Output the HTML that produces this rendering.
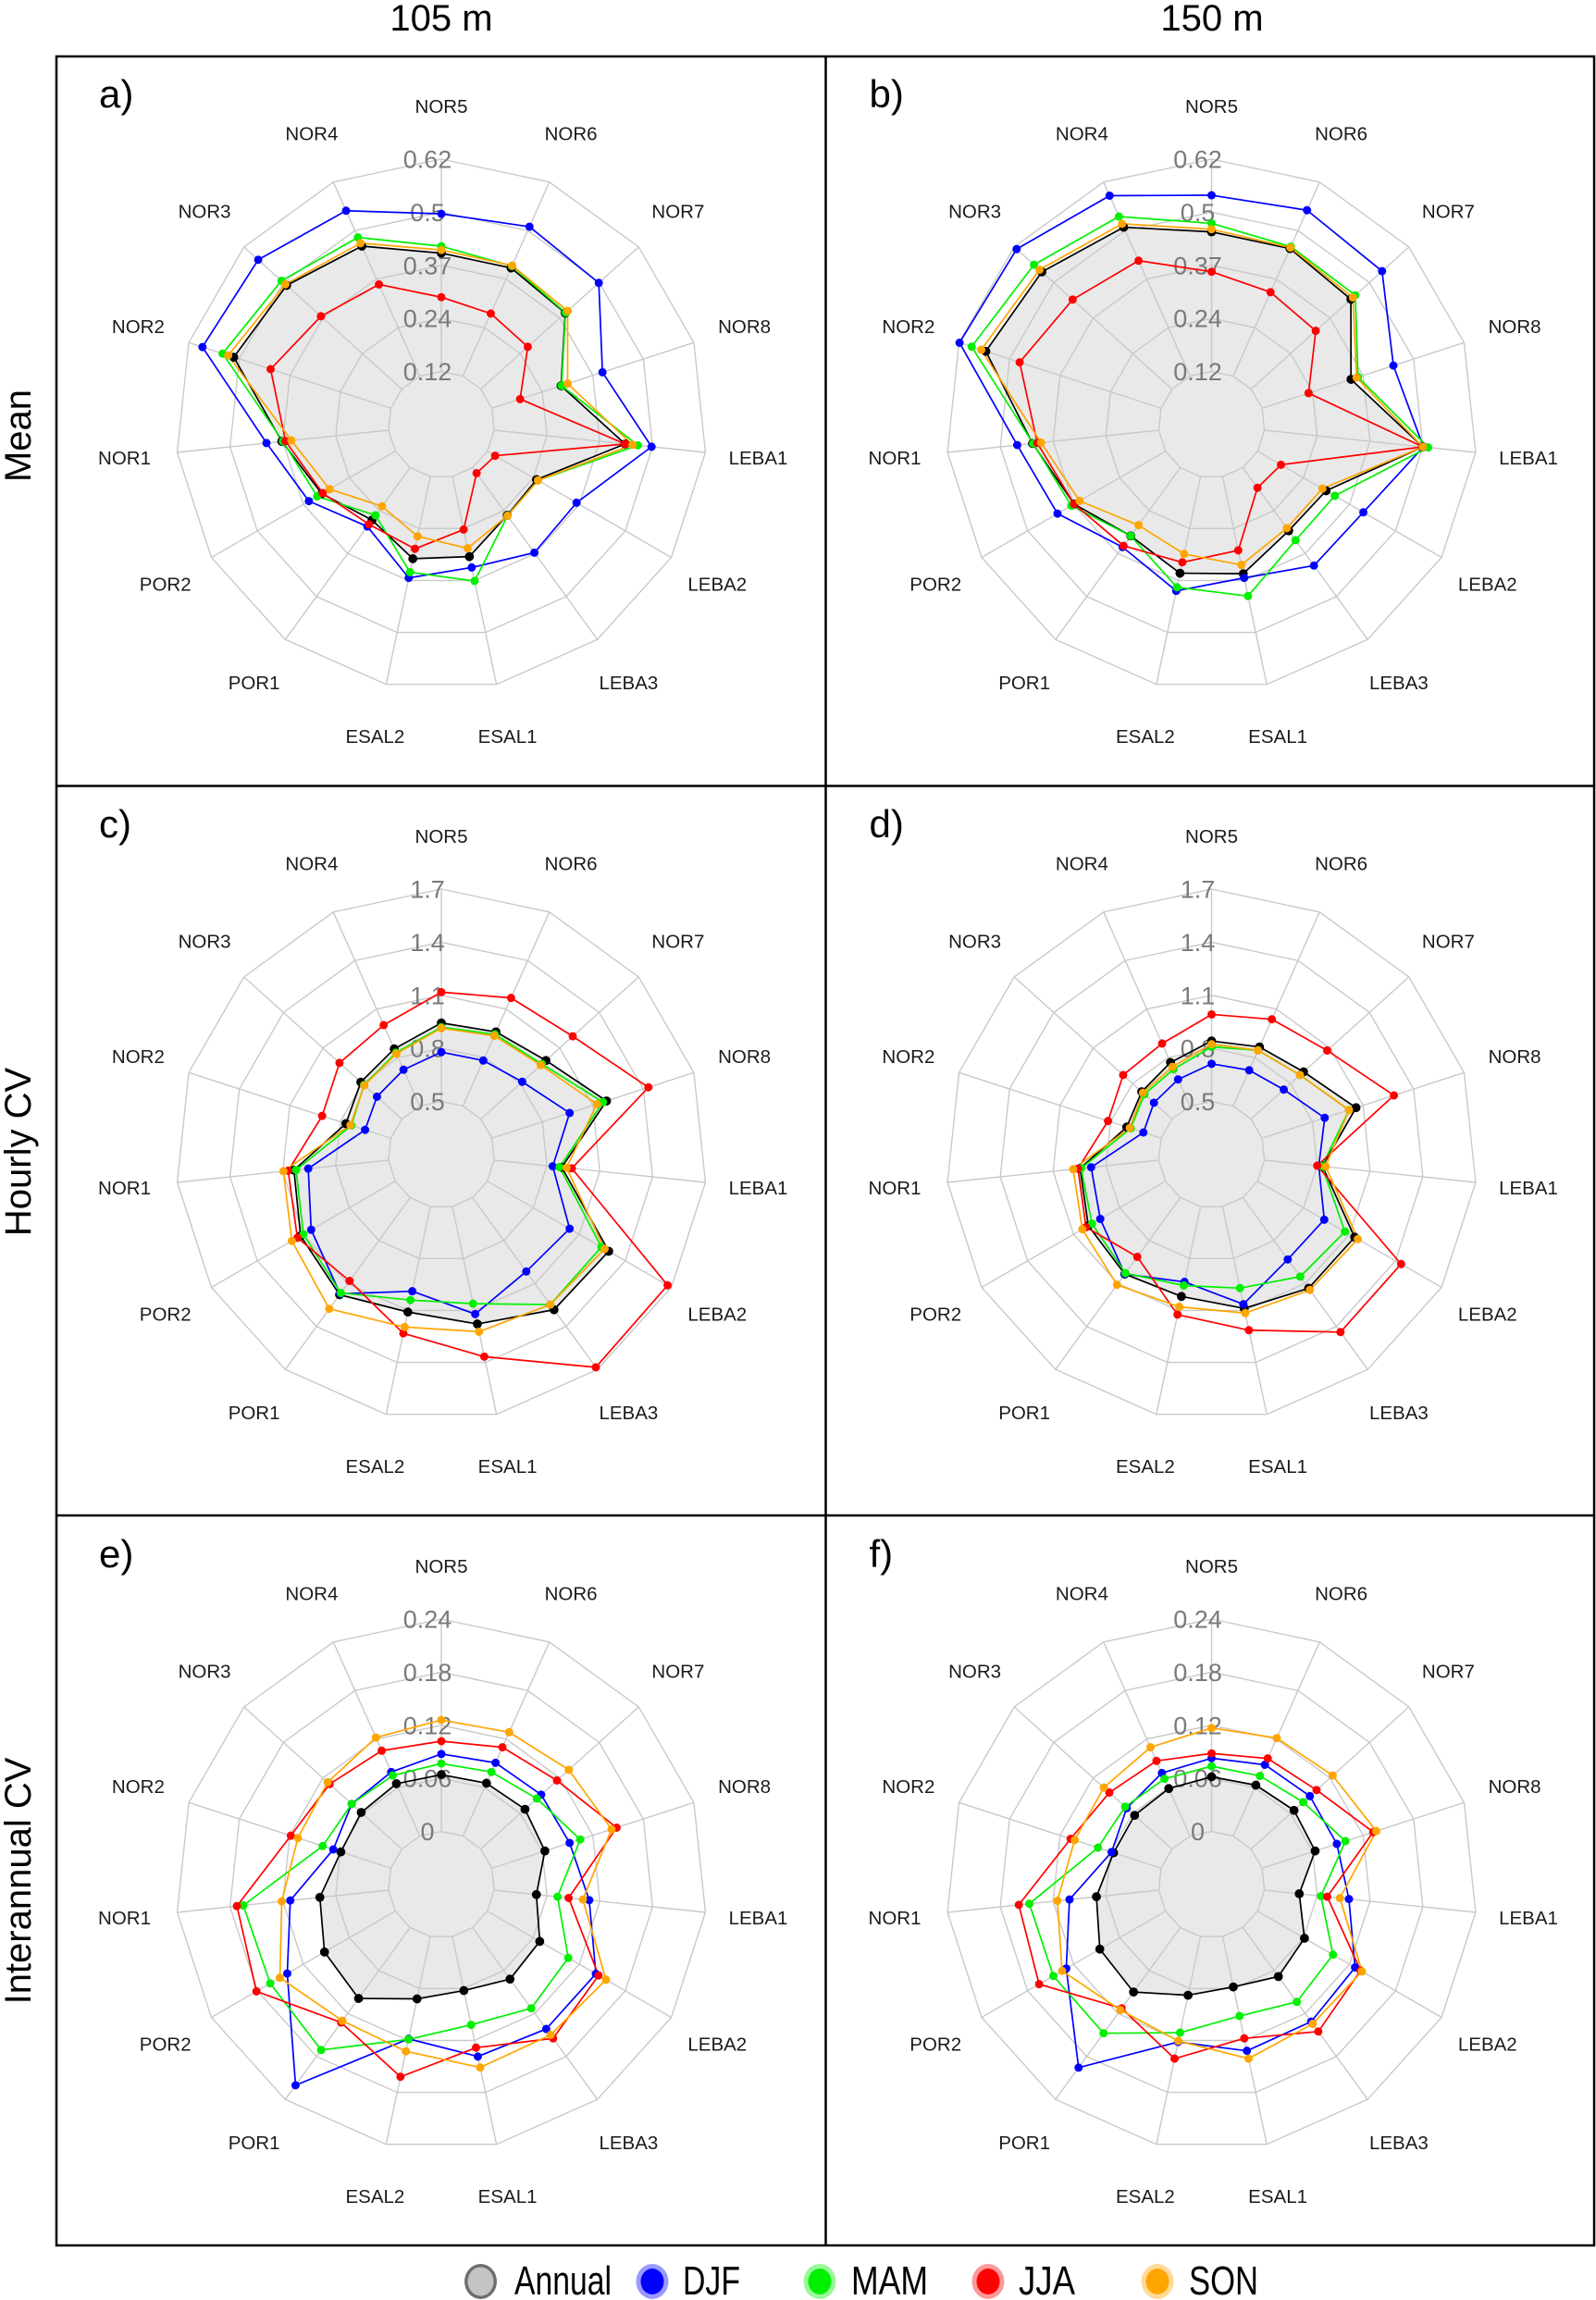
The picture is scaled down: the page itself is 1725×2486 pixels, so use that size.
<!DOCTYPE html>
<html><head><meta charset="utf-8"><style>
html,body{margin:0;padding:0;background:#fff}
svg{display:block;font-family:"Liberation Sans",Arial,sans-serif}
.F path{fill:#e9e9e9;stroke:#e9e9e9;stroke-width:1;vector-effect:non-scaling-stroke}
.grid polygon,.grid line{fill:none;stroke:#c9c9c9;stroke-width:1.4}
.L path{fill:none;stroke-width:1.7;vector-effect:non-scaling-stroke;stroke-linecap:round;stroke-linejoin:round}
.L .k{stroke:#000}.L .b{stroke:#0000ff}.L .g{stroke:#00f000}.L .r{stroke:#ff0000}.L .o{stroke:#ffa500}
.D .k{fill:#000}.D .b{fill:#0000ff}.D .g{fill:#00f000}.D .r{fill:#ff0000}.D .o{fill:#ffa500}
.ax{font-size:20.5px;fill:#1a1a1a;text-anchor:middle}
.rl{font-size:27px;fill:#7a7a7a;text-anchor:middle}
.pl{font-size:42px;fill:#000}
.hd{font-size:40px;fill:#000;text-anchor:middle}
</style></head><body>
<svg width="1725" height="2486" viewBox="0 0 1725 2486" xmlns="http://www.w3.org/2000/svg">
<defs>
<g id="grid" class="grid">
<polygon points="0,-57.4 23.35,-52.44 42.66,-38.41 54.59,-17.74 57.09,6 49.71,28.7 33.74,46.44 11.93,56.15 -11.93,56.15 -33.74,46.44 -49.71,28.7 -57.09,6 -54.59,-17.74 -42.66,-38.41 -23.35,-52.44"/>
<polygon points="0,-114.8 46.69,-104.87 85.31,-76.82 109.18,-35.48 114.17,12 99.42,57.4 67.48,92.88 23.87,112.29 -23.87,112.29 -67.48,92.88 -99.42,57.4 -114.17,12 -109.18,-35.48 -85.31,-76.82 -46.69,-104.87"/>
<polygon points="0,-172.2 70.04,-157.31 127.97,-115.22 163.77,-53.21 171.26,18 149.13,86.1 101.22,139.31 35.8,168.44 -35.8,168.44 -101.22,139.31 -149.13,86.1 -171.26,18 -163.77,-53.21 -127.97,-115.22 -70.04,-157.31"/>
<polygon points="0,-229.6 93.39,-209.75 170.63,-153.63 218.36,-70.95 228.34,24 198.84,114.8 134.96,185.75 47.74,224.58 -47.74,224.58 -134.96,185.75 -198.84,114.8 -228.34,24 -218.36,-70.95 -170.63,-153.63 -93.39,-209.75"/>
<polygon points="0,-287 116.73,-262.19 213.28,-192.04 272.95,-88.69 285.43,30 248.55,143.5 168.69,232.19 59.67,280.73 -59.67,280.73 -168.69,232.19 -248.55,143.5 -285.43,30 -272.95,-88.69 -213.28,-192.04 -116.73,-262.19"/>
<line x1="0" y1="-57.4" x2="0" y2="-287"/>
<line x1="23.35" y1="-52.44" x2="116.73" y2="-262.19"/>
<line x1="42.66" y1="-38.41" x2="213.28" y2="-192.04"/>
<line x1="54.59" y1="-17.74" x2="272.95" y2="-88.69"/>
<line x1="57.09" y1="6" x2="285.43" y2="30"/>
<line x1="49.71" y1="28.7" x2="248.55" y2="143.5"/>
<line x1="33.74" y1="46.44" x2="168.69" y2="232.19"/>
<line x1="11.93" y1="56.15" x2="59.67" y2="280.73"/>
<line x1="-11.93" y1="56.15" x2="-59.67" y2="280.73"/>
<line x1="-33.74" y1="46.44" x2="-168.69" y2="232.19"/>
<line x1="-49.71" y1="28.7" x2="-248.55" y2="143.5"/>
<line x1="-57.09" y1="6" x2="-285.43" y2="30"/>
<line x1="-54.59" y1="-17.74" x2="-272.95" y2="-88.69"/>
<line x1="-42.66" y1="-38.41" x2="-213.28" y2="-192.04"/>
<line x1="-23.35" y1="-52.44" x2="-116.73" y2="-262.19"/>
</g>
</defs>
<rect width="1725" height="2486" fill="#fff"/>

<text class="hd" x="477" y="33">105 m</text>
<text class="hd" x="1310" y="33">150 m</text>
<text font-size="40" text-anchor="middle" transform="translate(33,471) rotate(-90)">Mean</text>
<text font-size="40" text-anchor="middle" transform="translate(33,1245) rotate(-90)">Hourly CV</text>
<text font-size="40" text-anchor="middle" transform="translate(33,2033) rotate(-90)">Interannual CV</text>

<!-- PANEL A -->
<text class="pl" x="107" y="116">a)</text>
<g transform="translate(477,459)">
<g class="F">
<g transform="matrix(0,-57.4,23.347,-52.437,0,0)"><path d="M0 0 3.23 0 0 3.23z"/></g>
<g transform="matrix(23.347,-52.437,42.657,-38.408,0,0)"><path d="M0 0 3.23 0 0 3.14z"/></g>
<g transform="matrix(42.657,-38.408,54.591,-17.738,0,0)"><path d="M0 0 3.14 0 0 2.37z"/></g>
<g transform="matrix(54.591,-17.738,57.086,6,0,0)"><path d="M0 0 2.37 0 0 3.48z"/></g>
<g transform="matrix(57.086,6,49.71,28.7,0,0)"><path d="M0 0 3.48 0 0 2.07z"/></g>
<g transform="matrix(49.71,28.7,33.739,46.438,0,0)"><path d="M0 0 2.07 0 0 2.11z"/></g>
<g transform="matrix(33.739,46.438,11.934,56.146,0,0)"><path d="M0 0 2.11 0 0 2.54z"/></g>
<g transform="matrix(11.934,56.146,-11.934,56.146,0,0)"><path d="M0 0 2.54 0 0 2.58z"/></g>
<g transform="matrix(-11.934,56.146,-33.739,46.438,0,0)"><path d="M0 0 2.58 0 0 2.22z"/></g>
<g transform="matrix(-33.739,46.438,-49.71,28.7,0,0)"><path d="M0 0 2.22 0 0 2.60z"/></g>
<g transform="matrix(-49.71,28.7,-57.086,6,0,0)"><path d="M0 0 2.60 0 0 3.02z"/></g>
<g transform="matrix(-57.086,6,-54.591,-17.738,0,0)"><path d="M0 0 3.02 0 0 4.11z"/></g>
<g transform="matrix(-54.591,-17.738,-42.657,-38.408,0,0)"><path d="M0 0 4.11 0 0 3.92z"/></g>
<g transform="matrix(-42.657,-38.408,-23.347,-52.437,0,0)"><path d="M0 0 3.92 0 0 3.68z"/></g>
<g transform="matrix(-23.347,-52.437,0,-57.4,0,0)"><path d="M0 0 3.68 0 0 3.23z"/></g>
</g>
<use href="#grid"/>
<text class="rl" x="-15" y="-57.4" dy="0.35em">0.12</text>
<text class="rl" x="-15" y="-114.8" dy="0.35em">0.24</text>
<text class="rl" x="-15" y="-172.2" dy="0.35em">0.37</text>
<text class="rl" x="-15" y="-229.6" dy="0.35em">0.5</text>
<text class="rl" x="-15" y="-287" dy="0.35em">0.62</text>
<text class="ax" x="0" y="-344.4" dy="0.35em">NOR5</text>
<text class="ax" x="140.1" y="-314.6" dy="0.35em">NOR6</text>
<text class="ax" x="255.9" y="-230.5" dy="0.35em">NOR7</text>
<text class="ax" x="327.6" y="-106.4" dy="0.35em">NOR8</text>
<text class="ax" x="342.5" y="36" dy="0.35em">LEBA1</text>
<text class="ax" x="298.3" y="172.2" dy="0.35em">LEBA2</text>
<text class="ax" x="202.4" y="278.6" dy="0.35em">LEBA3</text>
<text class="ax" x="71.6" y="336.9" dy="0.35em">ESAL1</text>
<text class="ax" x="-71.6" y="336.9" dy="0.35em">ESAL2</text>
<text class="ax" x="-202.4" y="278.6" dy="0.35em">POR1</text>
<text class="ax" x="-298.3" y="172.2" dy="0.35em">POR2</text>
<text class="ax" x="-342.5" y="36" dy="0.35em">NOR1</text>
<text class="ax" x="-327.6" y="-106.4" dy="0.35em">NOR2</text>
<text class="ax" x="-255.9" y="-230.5" dy="0.35em">NOR3</text>
<text class="ax" x="-140.1" y="-314.6" dy="0.35em">NOR4</text>
<g class="L">
<g transform="matrix(0,-57.4,23.347,-52.437,0,0)"><path class="k" d="M3.23 0 0 3.23"/><path class="b" d="M3.97 0 0 4.08"/><path class="g" d="M3.36 0 0 3.27"/><path class="r" d="M2.40 0 0 2.29"/><path class="o" d="M3.29 0 0 3.28"/></g>
<g transform="matrix(23.347,-52.437,42.657,-38.408,0,0)"><path class="k" d="M3.23 0 0 3.14"/><path class="b" d="M4.08 0 0 3.99"/><path class="g" d="M3.27 0 0 3.15"/><path class="r" d="M2.29 0 0 2.19"/><path class="o" d="M3.28 0 0 3.20"/></g>
<g transform="matrix(42.657,-38.408,54.591,-17.738,0,0)"><path class="k" d="M3.14 0 0 2.37"/><path class="b" d="M3.99 0 0 3.19"/><path class="g" d="M3.15 0 0 2.38"/><path class="r" d="M2.19 0 0 1.56"/><path class="o" d="M3.20 0 0 2.50"/></g>
<g transform="matrix(54.591,-17.738,57.086,6,0,0)"><path class="k" d="M2.37 0 0 3.48"/><path class="b" d="M3.19 0 0 3.98"/><path class="g" d="M2.38 0 0 3.72"/><path class="r" d="M1.56 0 0 3.48"/><path class="o" d="M2.50 0 0 3.62"/></g>
<g transform="matrix(57.086,6,49.71,28.7,0,0)"><path class="k" d="M3.48 0 0 2.07"/><path class="b" d="M3.98 0 0 2.94"/><path class="g" d="M3.72 0 0 2.10"/><path class="r" d="M3.48 0 0 1.17"/><path class="o" d="M3.62 0 0 2.10"/></g>
<g transform="matrix(49.71,28.7,33.739,46.438,0,0)"><path class="k" d="M2.07 0 0 2.11"/><path class="b" d="M2.94 0 0 2.98"/><path class="g" d="M2.10 0 0 2.12"/><path class="r" d="M1.17 0 0 1.13"/><path class="o" d="M2.10 0 0 2.12"/></g>
<g transform="matrix(33.739,46.438,11.934,56.146,0,0)"><path class="k" d="M2.11 0 0 2.54"/><path class="b" d="M2.98 0 0 2.75"/><path class="g" d="M2.12 0 0 3.01"/><path class="r" d="M1.13 0 0 2.02"/><path class="o" d="M2.12 0 0 2.38"/></g>
<g transform="matrix(11.934,56.146,-11.934,56.146,0,0)"><path class="k" d="M2.54 0 0 2.58"/><path class="b" d="M2.75 0 0 2.95"/><path class="g" d="M3.01 0 0 2.84"/><path class="r" d="M2.02 0 0 2.39"/><path class="o" d="M2.38 0 0 2.15"/></g>
<g transform="matrix(-11.934,56.146,-33.739,46.438,0,0)"><path class="k" d="M2.58 0 0 2.22"/><path class="b" d="M2.95 0 0 2.37"/><path class="g" d="M2.84 0 0 2.11"/><path class="r" d="M2.39 0 0 2.32"/><path class="o" d="M2.15 0 0 1.90"/></g>
<g transform="matrix(-33.739,46.438,-49.71,28.7,0,0)"><path class="k" d="M2.22 0 0 2.60"/><path class="b" d="M2.37 0 0 2.88"/><path class="g" d="M2.11 0 0 2.70"/><path class="r" d="M2.32 0 0 2.58"/><path class="o" d="M1.90 0 0 2.43"/></g>
<g transform="matrix(-49.71,28.7,-57.086,6,0,0)"><path class="k" d="M2.60 0 0 3.02"/><path class="b" d="M2.88 0 0 3.31"/><path class="g" d="M2.70 0 0 3.00"/><path class="r" d="M2.58 0 0 2.95"/><path class="o" d="M2.43 0 0 2.84"/></g>
<g transform="matrix(-57.086,6,-54.591,-17.738,0,0)"><path class="k" d="M3.02 0 0 4.11"/><path class="b" d="M3.31 0 0 4.73"/><path class="g" d="M3.00 0 0 4.33"/><path class="r" d="M2.95 0 0 3.38"/><path class="o" d="M2.84 0 0 4.22"/></g>
<g transform="matrix(-54.591,-17.738,-42.657,-38.408,0,0)"><path class="k" d="M4.11 0 0 3.92"/><path class="b" d="M4.73 0 0 4.64"/><path class="g" d="M4.33 0 0 4.05"/><path class="r" d="M3.38 0 0 3.05"/><path class="o" d="M4.22 0 0 3.95"/></g>
<g transform="matrix(-42.657,-38.408,-23.347,-52.437,0,0)"><path class="k" d="M3.92 0 0 3.68"/><path class="b" d="M4.64 0 0 4.41"/><path class="g" d="M4.05 0 0 3.86"/><path class="r" d="M3.05 0 0 2.89"/><path class="o" d="M3.95 0 0 3.74"/></g>
<g transform="matrix(-23.347,-52.437,0,-57.4,0,0)"><path class="k" d="M3.68 0 0 3.23"/><path class="b" d="M4.41 0 0 3.97"/><path class="g" d="M3.86 0 0 3.36"/><path class="r" d="M2.89 0 0 2.40"/><path class="o" d="M3.74 0 0 3.29"/></g>
</g>
<g class="D">
<g transform="rotate(0) scale(57.4)"><circle class="k" cy="-3.23" r=".085"/><circle class="b" cy="-3.97" r=".078"/><circle class="g" cy="-3.36" r=".078"/><circle class="r" cy="-2.40" r=".078"/><circle class="o" cy="-3.29" r=".078"/></g>
<g transform="rotate(24) scale(57.4)"><circle class="k" cy="-3.23" r=".085"/><circle class="b" cy="-4.08" r=".078"/><circle class="g" cy="-3.27" r=".078"/><circle class="r" cy="-2.29" r=".078"/><circle class="o" cy="-3.28" r=".078"/></g>
<g transform="rotate(48) scale(57.4)"><circle class="k" cy="-3.14" r=".085"/><circle class="b" cy="-3.99" r=".078"/><circle class="g" cy="-3.15" r=".078"/><circle class="r" cy="-2.19" r=".078"/><circle class="o" cy="-3.20" r=".078"/></g>
<g transform="rotate(72) scale(57.4)"><circle class="k" cy="-2.37" r=".085"/><circle class="b" cy="-3.19" r=".078"/><circle class="g" cy="-2.38" r=".078"/><circle class="r" cy="-1.56" r=".078"/><circle class="o" cy="-2.50" r=".078"/></g>
<g transform="rotate(96) scale(57.4)"><circle class="k" cy="-3.48" r=".085"/><circle class="b" cy="-3.98" r=".078"/><circle class="g" cy="-3.72" r=".078"/><circle class="r" cy="-3.48" r=".078"/><circle class="o" cy="-3.62" r=".078"/></g>
<g transform="rotate(120) scale(57.4)"><circle class="k" cy="-2.07" r=".085"/><circle class="b" cy="-2.94" r=".078"/><circle class="g" cy="-2.10" r=".078"/><circle class="r" cy="-1.17" r=".078"/><circle class="o" cy="-2.10" r=".078"/></g>
<g transform="rotate(144) scale(57.4)"><circle class="k" cy="-2.11" r=".085"/><circle class="b" cy="-2.98" r=".078"/><circle class="g" cy="-2.12" r=".078"/><circle class="r" cy="-1.13" r=".078"/><circle class="o" cy="-2.12" r=".078"/></g>
<g transform="rotate(168) scale(57.4)"><circle class="k" cy="-2.54" r=".085"/><circle class="b" cy="-2.75" r=".078"/><circle class="g" cy="-3.01" r=".078"/><circle class="r" cy="-2.02" r=".078"/><circle class="o" cy="-2.38" r=".078"/></g>
<g transform="rotate(192) scale(57.4)"><circle class="k" cy="-2.58" r=".085"/><circle class="b" cy="-2.95" r=".078"/><circle class="g" cy="-2.84" r=".078"/><circle class="r" cy="-2.39" r=".078"/><circle class="o" cy="-2.15" r=".078"/></g>
<g transform="rotate(216) scale(57.4)"><circle class="k" cy="-2.22" r=".085"/><circle class="b" cy="-2.37" r=".078"/><circle class="g" cy="-2.11" r=".078"/><circle class="r" cy="-2.32" r=".078"/><circle class="o" cy="-1.90" r=".078"/></g>
<g transform="rotate(240) scale(57.4)"><circle class="k" cy="-2.60" r=".085"/><circle class="b" cy="-2.88" r=".078"/><circle class="g" cy="-2.70" r=".078"/><circle class="r" cy="-2.58" r=".078"/><circle class="o" cy="-2.43" r=".078"/></g>
<g transform="rotate(264) scale(57.4)"><circle class="k" cy="-3.02" r=".085"/><circle class="b" cy="-3.31" r=".078"/><circle class="g" cy="-3.00" r=".078"/><circle class="r" cy="-2.95" r=".078"/><circle class="o" cy="-2.84" r=".078"/></g>
<g transform="rotate(288) scale(57.4)"><circle class="k" cy="-4.11" r=".085"/><circle class="b" cy="-4.73" r=".078"/><circle class="g" cy="-4.33" r=".078"/><circle class="r" cy="-3.38" r=".078"/><circle class="o" cy="-4.22" r=".078"/></g>
<g transform="rotate(312) scale(57.4)"><circle class="k" cy="-3.92" r=".085"/><circle class="b" cy="-4.64" r=".078"/><circle class="g" cy="-4.05" r=".078"/><circle class="r" cy="-3.05" r=".078"/><circle class="o" cy="-3.95" r=".078"/></g>
<g transform="rotate(336) scale(57.4)"><circle class="k" cy="-3.68" r=".085"/><circle class="b" cy="-4.41" r=".078"/><circle class="g" cy="-3.86" r=".078"/><circle class="r" cy="-2.89" r=".078"/><circle class="o" cy="-3.74" r=".078"/></g>
</g>
</g>

<!-- PANEL B -->
<text class="pl" x="939.5" y="116">b)</text>
<g transform="translate(1309.5,459)">
<g class="F">
<g transform="matrix(0,-57.4,23.347,-52.437,0,0)"><path d="M0 0 3.63 0 0 3.63z"/></g>
<g transform="matrix(23.347,-52.437,42.657,-38.408,0,0)"><path d="M0 0 3.63 0 0 3.53z"/></g>
<g transform="matrix(42.657,-38.408,54.591,-17.738,0,0)"><path d="M0 0 3.53 0 0 2.76z"/></g>
<g transform="matrix(54.591,-17.738,57.086,6,0,0)"><path d="M0 0 2.76 0 0 4.00z"/></g>
<g transform="matrix(57.086,6,49.71,28.7,0,0)"><path d="M0 0 4.00 0 0 2.49z"/></g>
<g transform="matrix(49.71,28.7,33.739,46.438,0,0)"><path d="M0 0 2.49 0 0 2.47z"/></g>
<g transform="matrix(33.739,46.438,11.934,56.146,0,0)"><path d="M0 0 2.47 0 0 2.87z"/></g>
<g transform="matrix(11.934,56.146,-11.934,56.146,0,0)"><path d="M0 0 2.87 0 0 2.86z"/></g>
<g transform="matrix(-11.934,56.146,-33.739,46.438,0,0)"><path d="M0 0 2.86 0 0 2.59z"/></g>
<g transform="matrix(-33.739,46.438,-49.71,28.7,0,0)"><path d="M0 0 2.59 0 0 2.99z"/></g>
<g transform="matrix(-49.71,28.7,-57.086,6,0,0)"><path d="M0 0 2.99 0 0 3.39z"/></g>
<g transform="matrix(-57.086,6,-54.591,-17.738,0,0)"><path d="M0 0 3.39 0 0 4.47z"/></g>
<g transform="matrix(-54.591,-17.738,-42.657,-38.408,0,0)"><path d="M0 0 4.47 0 0 4.30z"/></g>
<g transform="matrix(-42.657,-38.408,-23.347,-52.437,0,0)"><path d="M0 0 4.30 0 0 4.07z"/></g>
<g transform="matrix(-23.347,-52.437,0,-57.4,0,0)"><path d="M0 0 4.07 0 0 3.63z"/></g>
</g>
<use href="#grid"/>
<text class="rl" x="-15" y="-57.4" dy="0.35em">0.12</text>
<text class="rl" x="-15" y="-114.8" dy="0.35em">0.24</text>
<text class="rl" x="-15" y="-172.2" dy="0.35em">0.37</text>
<text class="rl" x="-15" y="-229.6" dy="0.35em">0.5</text>
<text class="rl" x="-15" y="-287" dy="0.35em">0.62</text>
<text class="ax" x="0" y="-344.4" dy="0.35em">NOR5</text>
<text class="ax" x="140.1" y="-314.6" dy="0.35em">NOR6</text>
<text class="ax" x="255.9" y="-230.5" dy="0.35em">NOR7</text>
<text class="ax" x="327.6" y="-106.4" dy="0.35em">NOR8</text>
<text class="ax" x="342.5" y="36" dy="0.35em">LEBA1</text>
<text class="ax" x="298.3" y="172.2" dy="0.35em">LEBA2</text>
<text class="ax" x="202.4" y="278.6" dy="0.35em">LEBA3</text>
<text class="ax" x="71.6" y="336.9" dy="0.35em">ESAL1</text>
<text class="ax" x="-71.6" y="336.9" dy="0.35em">ESAL2</text>
<text class="ax" x="-202.4" y="278.6" dy="0.35em">POR1</text>
<text class="ax" x="-298.3" y="172.2" dy="0.35em">POR2</text>
<text class="ax" x="-342.5" y="36" dy="0.35em">NOR1</text>
<text class="ax" x="-327.6" y="-106.4" dy="0.35em">NOR2</text>
<text class="ax" x="-255.9" y="-230.5" dy="0.35em">NOR3</text>
<text class="ax" x="-140.1" y="-314.6" dy="0.35em">NOR4</text>
<g class="L">
<g transform="matrix(0,-57.4,23.347,-52.437,0,0)"><path class="k" d="M3.63 0 0 3.63"/><path class="b" d="M4.32 0 0 4.42"/><path class="g" d="M3.79 0 0 3.67"/><path class="r" d="M2.88 0 0 2.73"/><path class="o" d="M3.68 0 0 3.65"/></g>
<g transform="matrix(23.347,-52.437,42.657,-38.408,0,0)"><path class="k" d="M3.63 0 0 3.53"/><path class="b" d="M4.42 0 0 4.32"/><path class="g" d="M3.67 0 0 3.64"/><path class="r" d="M2.73 0 0 2.64"/><path class="o" d="M3.65 0 0 3.58"/></g>
<g transform="matrix(42.657,-38.408,54.591,-17.738,0,0)"><path class="k" d="M3.53 0 0 2.76"/><path class="b" d="M4.32 0 0 3.60"/><path class="g" d="M3.64 0 0 2.90"/><path class="r" d="M2.64 0 0 1.92"/><path class="o" d="M3.58 0 0 2.87"/></g>
<g transform="matrix(54.591,-17.738,57.086,6,0,0)"><path class="k" d="M2.76 0 0 4.00"/><path class="b" d="M3.60 0 0 4.01"/><path class="g" d="M2.90 0 0 4.10"/><path class="r" d="M1.92 0 0 4.00"/><path class="o" d="M2.87 0 0 4.00"/></g>
<g transform="matrix(57.086,6,49.71,28.7,0,0)"><path class="k" d="M4.00 0 0 2.49"/><path class="b" d="M4.01 0 0 3.30"/><path class="g" d="M4.10 0 0 2.68"/><path class="r" d="M4.00 0 0 1.51"/><path class="o" d="M4.00 0 0 2.41"/></g>
<g transform="matrix(49.71,28.7,33.739,46.438,0,0)"><path class="k" d="M2.49 0 0 2.47"/><path class="b" d="M3.30 0 0 3.28"/><path class="g" d="M2.68 0 0 2.69"/><path class="r" d="M1.51 0 0 1.47"/><path class="o" d="M2.41 0 0 2.41"/></g>
<g transform="matrix(33.739,46.438,11.934,56.146,0,0)"><path class="k" d="M2.47 0 0 2.87"/><path class="b" d="M3.28 0 0 2.95"/><path class="g" d="M2.69 0 0 3.30"/><path class="r" d="M1.47 0 0 2.42"/><path class="o" d="M2.41 0 0 2.70"/></g>
<g transform="matrix(11.934,56.146,-11.934,56.146,0,0)"><path class="k" d="M2.87 0 0 2.86"/><path class="b" d="M2.95 0 0 3.20"/><path class="g" d="M3.30 0 0 3.13"/><path class="r" d="M2.42 0 0 2.65"/><path class="o" d="M2.70 0 0 2.49"/></g>
<g transform="matrix(-11.934,56.146,-33.739,46.438,0,0)"><path class="k" d="M2.86 0 0 2.59"/><path class="b" d="M3.20 0 0 2.85"/><path class="g" d="M3.13 0 0 2.59"/><path class="r" d="M2.65 0 0 2.82"/><path class="o" d="M2.49 0 0 2.34"/></g>
<g transform="matrix(-33.739,46.438,-49.71,28.7,0,0)"><path class="k" d="M2.59 0 0 2.99"/><path class="b" d="M2.85 0 0 3.35"/><path class="g" d="M2.59 0 0 3.05"/><path class="r" d="M2.82 0 0 2.99"/><path class="o" d="M2.34 0 0 2.87"/></g>
<g transform="matrix(-49.71,28.7,-57.086,6,0,0)"><path class="k" d="M2.99 0 0 3.39"/><path class="b" d="M3.35 0 0 3.68"/><path class="g" d="M3.05 0 0 3.38"/><path class="r" d="M2.99 0 0 3.30"/><path class="o" d="M2.87 0 0 3.23"/></g>
<g transform="matrix(-57.086,6,-54.591,-17.738,0,0)"><path class="k" d="M3.39 0 0 4.47"/><path class="b" d="M3.68 0 0 4.99"/><path class="g" d="M3.38 0 0 4.75"/><path class="r" d="M3.30 0 0 3.80"/><path class="o" d="M3.23 0 0 4.56"/></g>
<g transform="matrix(-54.591,-17.738,-42.657,-38.408,0,0)"><path class="k" d="M4.47 0 0 4.30"/><path class="b" d="M4.99 0 0 4.94"/><path class="g" d="M4.75 0 0 4.50"/><path class="r" d="M3.80 0 0 3.52"/><path class="o" d="M4.56 0 0 4.36"/></g>
<g transform="matrix(-42.657,-38.408,-23.347,-52.437,0,0)"><path class="k" d="M4.30 0 0 4.07"/><path class="b" d="M4.94 0 0 4.72"/><path class="g" d="M4.50 0 0 4.29"/><path class="r" d="M3.52 0 0 3.38"/><path class="o" d="M4.36 0 0 4.14"/></g>
<g transform="matrix(-23.347,-52.437,0,-57.4,0,0)"><path class="k" d="M4.07 0 0 3.63"/><path class="b" d="M4.72 0 0 4.32"/><path class="g" d="M4.29 0 0 3.79"/><path class="r" d="M3.38 0 0 2.88"/><path class="o" d="M4.14 0 0 3.68"/></g>
</g>
<g class="D">
<g transform="rotate(0) scale(57.4)"><circle class="k" cy="-3.63" r=".085"/><circle class="b" cy="-4.32" r=".078"/><circle class="g" cy="-3.79" r=".078"/><circle class="r" cy="-2.88" r=".078"/><circle class="o" cy="-3.68" r=".078"/></g>
<g transform="rotate(24) scale(57.4)"><circle class="k" cy="-3.63" r=".085"/><circle class="b" cy="-4.42" r=".078"/><circle class="g" cy="-3.67" r=".078"/><circle class="r" cy="-2.73" r=".078"/><circle class="o" cy="-3.65" r=".078"/></g>
<g transform="rotate(48) scale(57.4)"><circle class="k" cy="-3.53" r=".085"/><circle class="b" cy="-4.32" r=".078"/><circle class="g" cy="-3.64" r=".078"/><circle class="r" cy="-2.64" r=".078"/><circle class="o" cy="-3.58" r=".078"/></g>
<g transform="rotate(72) scale(57.4)"><circle class="k" cy="-2.76" r=".085"/><circle class="b" cy="-3.60" r=".078"/><circle class="g" cy="-2.90" r=".078"/><circle class="r" cy="-1.92" r=".078"/><circle class="o" cy="-2.87" r=".078"/></g>
<g transform="rotate(96) scale(57.4)"><circle class="k" cy="-4.00" r=".085"/><circle class="b" cy="-4.01" r=".078"/><circle class="g" cy="-4.10" r=".078"/><circle class="r" cy="-4.00" r=".078"/><circle class="o" cy="-4.00" r=".078"/></g>
<g transform="rotate(120) scale(57.4)"><circle class="k" cy="-2.49" r=".085"/><circle class="b" cy="-3.30" r=".078"/><circle class="g" cy="-2.68" r=".078"/><circle class="r" cy="-1.51" r=".078"/><circle class="o" cy="-2.41" r=".078"/></g>
<g transform="rotate(144) scale(57.4)"><circle class="k" cy="-2.47" r=".085"/><circle class="b" cy="-3.28" r=".078"/><circle class="g" cy="-2.69" r=".078"/><circle class="r" cy="-1.47" r=".078"/><circle class="o" cy="-2.41" r=".078"/></g>
<g transform="rotate(168) scale(57.4)"><circle class="k" cy="-2.87" r=".085"/><circle class="b" cy="-2.95" r=".078"/><circle class="g" cy="-3.30" r=".078"/><circle class="r" cy="-2.42" r=".078"/><circle class="o" cy="-2.70" r=".078"/></g>
<g transform="rotate(192) scale(57.4)"><circle class="k" cy="-2.86" r=".085"/><circle class="b" cy="-3.20" r=".078"/><circle class="g" cy="-3.13" r=".078"/><circle class="r" cy="-2.65" r=".078"/><circle class="o" cy="-2.49" r=".078"/></g>
<g transform="rotate(216) scale(57.4)"><circle class="k" cy="-2.59" r=".085"/><circle class="b" cy="-2.85" r=".078"/><circle class="g" cy="-2.59" r=".078"/><circle class="r" cy="-2.82" r=".078"/><circle class="o" cy="-2.34" r=".078"/></g>
<g transform="rotate(240) scale(57.4)"><circle class="k" cy="-2.99" r=".085"/><circle class="b" cy="-3.35" r=".078"/><circle class="g" cy="-3.05" r=".078"/><circle class="r" cy="-2.99" r=".078"/><circle class="o" cy="-2.87" r=".078"/></g>
<g transform="rotate(264) scale(57.4)"><circle class="k" cy="-3.39" r=".085"/><circle class="b" cy="-3.68" r=".078"/><circle class="g" cy="-3.38" r=".078"/><circle class="r" cy="-3.30" r=".078"/><circle class="o" cy="-3.23" r=".078"/></g>
<g transform="rotate(288) scale(57.4)"><circle class="k" cy="-4.47" r=".085"/><circle class="b" cy="-4.99" r=".078"/><circle class="g" cy="-4.75" r=".078"/><circle class="r" cy="-3.80" r=".078"/><circle class="o" cy="-4.56" r=".078"/></g>
<g transform="rotate(312) scale(57.4)"><circle class="k" cy="-4.30" r=".085"/><circle class="b" cy="-4.94" r=".078"/><circle class="g" cy="-4.50" r=".078"/><circle class="r" cy="-3.52" r=".078"/><circle class="o" cy="-4.36" r=".078"/></g>
<g transform="rotate(336) scale(57.4)"><circle class="k" cy="-4.07" r=".085"/><circle class="b" cy="-4.72" r=".078"/><circle class="g" cy="-4.29" r=".078"/><circle class="r" cy="-3.38" r=".078"/><circle class="o" cy="-4.14" r=".078"/></g>
</g>
</g>

<!-- PANEL C -->
<text class="pl" x="107" y="905">c)</text>
<g transform="translate(477,1248)">
<g class="F">
<g transform="matrix(0,-57.4,23.347,-52.437,0,0)"><path d="M0 0 2.48 0 0 2.53z"/></g>
<g transform="matrix(23.347,-52.437,42.657,-38.408,0,0)"><path d="M0 0 2.53 0 0 2.65z"/></g>
<g transform="matrix(42.657,-38.408,54.591,-17.738,0,0)"><path d="M0 0 2.65 0 0 3.27z"/></g>
<g transform="matrix(54.591,-17.738,57.086,6,0,0)"><path d="M0 0 3.27 0 0 2.28z"/></g>
<g transform="matrix(57.086,6,49.71,28.7,0,0)"><path d="M0 0 2.28 0 0 3.64z"/></g>
<g transform="matrix(49.71,28.7,33.739,46.438,0,0)"><path d="M0 0 3.64 0 0 3.61z"/></g>
<g transform="matrix(33.739,46.438,11.934,56.146,0,0)"><path d="M0 0 3.61 0 0 3.26z"/></g>
<g transform="matrix(11.934,56.146,-11.934,56.146,0,0)"><path d="M0 0 3.26 0 0 3.03z"/></g>
<g transform="matrix(-11.934,56.146,-33.739,46.438,0,0)"><path d="M0 0 3.03 0 0 3.26z"/></g>
<g transform="matrix(-33.739,46.438,-49.71,28.7,0,0)"><path d="M0 0 3.26 0 0 3.06z"/></g>
<g transform="matrix(-49.71,28.7,-57.086,6,0,0)"><path d="M0 0 3.06 0 0 2.79z"/></g>
<g transform="matrix(-57.086,6,-54.591,-17.738,0,0)"><path d="M0 0 2.79 0 0 1.89z"/></g>
<g transform="matrix(-54.591,-17.738,-42.657,-38.408,0,0)"><path d="M0 0 1.89 0 0 2.04z"/></g>
<g transform="matrix(-42.657,-38.408,-23.347,-52.437,0,0)"><path d="M0 0 2.04 0 0 2.18z"/></g>
<g transform="matrix(-23.347,-52.437,0,-57.4,0,0)"><path d="M0 0 2.18 0 0 2.48z"/></g>
</g>
<use href="#grid"/>
<text class="rl" x="-15" y="-57.4" dy="0.35em">0.5</text>
<text class="rl" x="-15" y="-114.8" dy="0.35em">0.8</text>
<text class="rl" x="-15" y="-172.2" dy="0.35em">1.1</text>
<text class="rl" x="-15" y="-229.6" dy="0.35em">1.4</text>
<text class="rl" x="-15" y="-287" dy="0.35em">1.7</text>
<text class="ax" x="0" y="-344.4" dy="0.35em">NOR5</text>
<text class="ax" x="140.1" y="-314.6" dy="0.35em">NOR6</text>
<text class="ax" x="255.9" y="-230.5" dy="0.35em">NOR7</text>
<text class="ax" x="327.6" y="-106.4" dy="0.35em">NOR8</text>
<text class="ax" x="342.5" y="36" dy="0.35em">LEBA1</text>
<text class="ax" x="298.3" y="172.2" dy="0.35em">LEBA2</text>
<text class="ax" x="202.4" y="278.6" dy="0.35em">LEBA3</text>
<text class="ax" x="71.6" y="336.9" dy="0.35em">ESAL1</text>
<text class="ax" x="-71.6" y="336.9" dy="0.35em">ESAL2</text>
<text class="ax" x="-202.4" y="278.6" dy="0.35em">POR1</text>
<text class="ax" x="-298.3" y="172.2" dy="0.35em">POR2</text>
<text class="ax" x="-342.5" y="36" dy="0.35em">NOR1</text>
<text class="ax" x="-327.6" y="-106.4" dy="0.35em">NOR2</text>
<text class="ax" x="-255.9" y="-230.5" dy="0.35em">NOR3</text>
<text class="ax" x="-140.1" y="-314.6" dy="0.35em">NOR4</text>
<g class="L">
<g transform="matrix(0,-57.4,23.347,-52.437,0,0)"><path class="k" d="M2.48 0 0 2.53"/><path class="b" d="M1.93 0 0 1.94"/><path class="g" d="M2.40 0 0 2.48"/><path class="r" d="M3.06 0 0 3.23"/><path class="o" d="M2.38 0 0 2.45"/></g>
<g transform="matrix(23.347,-52.437,42.657,-38.408,0,0)"><path class="k" d="M2.53 0 0 2.65"/><path class="b" d="M1.94 0 0 2.05"/><path class="g" d="M2.48 0 0 2.55"/><path class="r" d="M3.23 0 0 3.33"/><path class="o" d="M2.45 0 0 2.52"/></g>
<g transform="matrix(42.657,-38.408,54.591,-17.738,0,0)"><path class="k" d="M2.65 0 0 3.27"/><path class="b" d="M2.05 0 0 2.54"/><path class="g" d="M2.55 0 0 3.20"/><path class="r" d="M3.33 0 0 4.10"/><path class="o" d="M2.52 0 0 3.08"/></g>
<g transform="matrix(54.591,-17.738,57.086,6,0,0)"><path class="k" d="M3.27 0 0 2.28"/><path class="b" d="M2.54 0 0 2.11"/><path class="g" d="M3.20 0 0 2.24"/><path class="r" d="M4.10 0 0 2.47"/><path class="o" d="M3.08 0 0 2.37"/></g>
<g transform="matrix(57.086,6,49.71,28.7,0,0)"><path class="k" d="M2.28 0 0 3.64"/><path class="b" d="M2.11 0 0 2.79"/><path class="g" d="M2.24 0 0 3.48"/><path class="r" d="M2.47 0 0 4.92"/><path class="o" d="M2.37 0 0 3.55"/></g>
<g transform="matrix(49.71,28.7,33.739,46.438,0,0)"><path class="k" d="M3.64 0 0 3.61"/><path class="b" d="M2.79 0 0 2.72"/><path class="g" d="M3.48 0 0 3.49"/><path class="r" d="M4.92 0 0 4.95"/><path class="o" d="M3.55 0 0 3.49"/></g>
<g transform="matrix(33.739,46.438,11.934,56.146,0,0)"><path class="k" d="M3.61 0 0 3.26"/><path class="b" d="M2.72 0 0 3.07"/><path class="g" d="M3.49 0 0 2.87"/><path class="r" d="M4.95 0 0 3.89"/><path class="o" d="M3.49 0 0 3.41"/></g>
<g transform="matrix(11.934,56.146,-11.934,56.146,0,0)"><path class="k" d="M3.26 0 0 3.03"/><path class="b" d="M3.07 0 0 2.63"/><path class="g" d="M2.87 0 0 2.80"/><path class="r" d="M3.89 0 0 3.44"/><path class="o" d="M3.41 0 0 3.32"/></g>
<g transform="matrix(-11.934,56.146,-33.739,46.438,0,0)"><path class="k" d="M3.03 0 0 3.26"/><path class="b" d="M2.63 0 0 3.24"/><path class="g" d="M2.80 0 0 3.22"/><path class="r" d="M3.44 0 0 2.94"/><path class="o" d="M3.32 0 0 3.59"/></g>
<g transform="matrix(-33.739,46.438,-49.71,28.7,0,0)"><path class="k" d="M3.26 0 0 3.06"/><path class="b" d="M3.24 0 0 2.83"/><path class="g" d="M3.22 0 0 3.00"/><path class="r" d="M2.94 0 0 3.13"/><path class="o" d="M3.59 0 0 3.25"/></g>
<g transform="matrix(-49.71,28.7,-57.086,6,0,0)"><path class="k" d="M3.06 0 0 2.79"/><path class="b" d="M2.83 0 0 2.52"/><path class="g" d="M3.00 0 0 2.75"/><path class="r" d="M3.13 0 0 2.90"/><path class="o" d="M3.25 0 0 2.99"/></g>
<g transform="matrix(-57.086,6,-54.591,-17.738,0,0)"><path class="k" d="M2.79 0 0 1.89"/><path class="b" d="M2.52 0 0 1.51"/><path class="g" d="M2.75 0 0 1.78"/><path class="r" d="M2.90 0 0 2.36"/><path class="o" d="M2.99 0 0 1.80"/></g>
<g transform="matrix(-54.591,-17.738,-42.657,-38.408,0,0)"><path class="k" d="M1.89 0 0 2.04"/><path class="b" d="M1.51 0 0 1.63"/><path class="g" d="M1.78 0 0 1.96"/><path class="r" d="M2.36 0 0 2.58"/><path class="o" d="M1.80 0 0 1.95"/></g>
<g transform="matrix(-42.657,-38.408,-23.347,-52.437,0,0)"><path class="k" d="M2.04 0 0 2.18"/><path class="b" d="M1.63 0 0 1.75"/><path class="g" d="M1.96 0 0 2.10"/><path class="r" d="M2.58 0 0 2.67"/><path class="o" d="M1.95 0 0 2.08"/></g>
<g transform="matrix(-23.347,-52.437,0,-57.4,0,0)"><path class="k" d="M2.18 0 0 2.48"/><path class="b" d="M1.75 0 0 1.93"/><path class="g" d="M2.10 0 0 2.40"/><path class="r" d="M2.67 0 0 3.06"/><path class="o" d="M2.08 0 0 2.38"/></g>
</g>
<g class="D">
<g transform="rotate(0) scale(57.4)"><circle class="k" cy="-2.48" r=".085"/><circle class="b" cy="-1.93" r=".078"/><circle class="g" cy="-2.40" r=".078"/><circle class="r" cy="-3.06" r=".078"/><circle class="o" cy="-2.38" r=".078"/></g>
<g transform="rotate(24) scale(57.4)"><circle class="k" cy="-2.53" r=".085"/><circle class="b" cy="-1.94" r=".078"/><circle class="g" cy="-2.48" r=".078"/><circle class="r" cy="-3.23" r=".078"/><circle class="o" cy="-2.45" r=".078"/></g>
<g transform="rotate(48) scale(57.4)"><circle class="k" cy="-2.65" r=".085"/><circle class="b" cy="-2.05" r=".078"/><circle class="g" cy="-2.55" r=".078"/><circle class="r" cy="-3.33" r=".078"/><circle class="o" cy="-2.52" r=".078"/></g>
<g transform="rotate(72) scale(57.4)"><circle class="k" cy="-3.27" r=".085"/><circle class="b" cy="-2.54" r=".078"/><circle class="g" cy="-3.20" r=".078"/><circle class="r" cy="-4.10" r=".078"/><circle class="o" cy="-3.08" r=".078"/></g>
<g transform="rotate(96) scale(57.4)"><circle class="k" cy="-2.28" r=".085"/><circle class="b" cy="-2.11" r=".078"/><circle class="g" cy="-2.24" r=".078"/><circle class="r" cy="-2.47" r=".078"/><circle class="o" cy="-2.37" r=".078"/></g>
<g transform="rotate(120) scale(57.4)"><circle class="k" cy="-3.64" r=".085"/><circle class="b" cy="-2.79" r=".078"/><circle class="g" cy="-3.48" r=".078"/><circle class="r" cy="-4.92" r=".078"/><circle class="o" cy="-3.55" r=".078"/></g>
<g transform="rotate(144) scale(57.4)"><circle class="k" cy="-3.61" r=".085"/><circle class="b" cy="-2.72" r=".078"/><circle class="g" cy="-3.49" r=".078"/><circle class="r" cy="-4.95" r=".078"/><circle class="o" cy="-3.49" r=".078"/></g>
<g transform="rotate(168) scale(57.4)"><circle class="k" cy="-3.26" r=".085"/><circle class="b" cy="-3.07" r=".078"/><circle class="g" cy="-2.87" r=".078"/><circle class="r" cy="-3.89" r=".078"/><circle class="o" cy="-3.41" r=".078"/></g>
<g transform="rotate(192) scale(57.4)"><circle class="k" cy="-3.03" r=".085"/><circle class="b" cy="-2.63" r=".078"/><circle class="g" cy="-2.80" r=".078"/><circle class="r" cy="-3.44" r=".078"/><circle class="o" cy="-3.32" r=".078"/></g>
<g transform="rotate(216) scale(57.4)"><circle class="k" cy="-3.26" r=".085"/><circle class="b" cy="-3.24" r=".078"/><circle class="g" cy="-3.22" r=".078"/><circle class="r" cy="-2.94" r=".078"/><circle class="o" cy="-3.59" r=".078"/></g>
<g transform="rotate(240) scale(57.4)"><circle class="k" cy="-3.06" r=".085"/><circle class="b" cy="-2.83" r=".078"/><circle class="g" cy="-3.00" r=".078"/><circle class="r" cy="-3.13" r=".078"/><circle class="o" cy="-3.25" r=".078"/></g>
<g transform="rotate(264) scale(57.4)"><circle class="k" cy="-2.79" r=".085"/><circle class="b" cy="-2.52" r=".078"/><circle class="g" cy="-2.75" r=".078"/><circle class="r" cy="-2.90" r=".078"/><circle class="o" cy="-2.99" r=".078"/></g>
<g transform="rotate(288) scale(57.4)"><circle class="k" cy="-1.89" r=".085"/><circle class="b" cy="-1.51" r=".078"/><circle class="g" cy="-1.78" r=".078"/><circle class="r" cy="-2.36" r=".078"/><circle class="o" cy="-1.80" r=".078"/></g>
<g transform="rotate(312) scale(57.4)"><circle class="k" cy="-2.04" r=".085"/><circle class="b" cy="-1.63" r=".078"/><circle class="g" cy="-1.96" r=".078"/><circle class="r" cy="-2.58" r=".078"/><circle class="o" cy="-1.95" r=".078"/></g>
<g transform="rotate(336) scale(57.4)"><circle class="k" cy="-2.18" r=".085"/><circle class="b" cy="-1.75" r=".078"/><circle class="g" cy="-2.10" r=".078"/><circle class="r" cy="-2.67" r=".078"/><circle class="o" cy="-2.08" r=".078"/></g>
</g>
</g>

<!-- PANEL D -->
<text class="pl" x="939.5" y="905">d)</text>
<g transform="translate(1309.5,1248)">
<g class="F">
<g transform="matrix(0,-57.4,23.347,-52.437,0,0)"><path d="M0 0 2.14 0 0 2.22z"/></g>
<g transform="matrix(23.347,-52.437,42.657,-38.408,0,0)"><path d="M0 0 2.22 0 0 2.33z"/></g>
<g transform="matrix(42.657,-38.408,54.591,-17.738,0,0)"><path d="M0 0 2.33 0 0 2.86z"/></g>
<g transform="matrix(54.591,-17.738,57.086,6,0,0)"><path d="M0 0 2.86 0 0 2.10z"/></g>
<g transform="matrix(57.086,6,49.71,28.7,0,0)"><path d="M0 0 2.10 0 0 3.11z"/></g>
<g transform="matrix(49.71,28.7,33.739,46.438,0,0)"><path d="M0 0 3.11 0 0 3.11z"/></g>
<g transform="matrix(33.739,46.438,11.934,56.146,0,0)"><path d="M0 0 3.11 0 0 2.96z"/></g>
<g transform="matrix(11.934,56.146,-11.934,56.146,0,0)"><path d="M0 0 2.96 0 0 2.73z"/></g>
<g transform="matrix(-11.934,56.146,-33.739,46.438,0,0)"><path d="M0 0 2.73 0 0 2.78z"/></g>
<g transform="matrix(-33.739,46.438,-49.71,28.7,0,0)"><path d="M0 0 2.78 0 0 2.68z"/></g>
<g transform="matrix(-49.71,28.7,-57.086,6,0,0)"><path d="M0 0 2.68 0 0 2.49z"/></g>
<g transform="matrix(-57.086,6,-54.591,-17.738,0,0)"><path d="M0 0 2.49 0 0 1.68z"/></g>
<g transform="matrix(-54.591,-17.738,-42.657,-38.408,0,0)"><path d="M0 0 1.68 0 0 1.77z"/></g>
<g transform="matrix(-42.657,-38.408,-23.347,-52.437,0,0)"><path d="M0 0 1.77 0 0 1.90z"/></g>
<g transform="matrix(-23.347,-52.437,0,-57.4,0,0)"><path d="M0 0 1.90 0 0 2.14z"/></g>
</g>
<use href="#grid"/>
<text class="rl" x="-15" y="-57.4" dy="0.35em">0.5</text>
<text class="rl" x="-15" y="-114.8" dy="0.35em">0.8</text>
<text class="rl" x="-15" y="-172.2" dy="0.35em">1.1</text>
<text class="rl" x="-15" y="-229.6" dy="0.35em">1.4</text>
<text class="rl" x="-15" y="-287" dy="0.35em">1.7</text>
<text class="ax" x="0" y="-344.4" dy="0.35em">NOR5</text>
<text class="ax" x="140.1" y="-314.6" dy="0.35em">NOR6</text>
<text class="ax" x="255.9" y="-230.5" dy="0.35em">NOR7</text>
<text class="ax" x="327.6" y="-106.4" dy="0.35em">NOR8</text>
<text class="ax" x="342.5" y="36" dy="0.35em">LEBA1</text>
<text class="ax" x="298.3" y="172.2" dy="0.35em">LEBA2</text>
<text class="ax" x="202.4" y="278.6" dy="0.35em">LEBA3</text>
<text class="ax" x="71.6" y="336.9" dy="0.35em">ESAL1</text>
<text class="ax" x="-71.6" y="336.9" dy="0.35em">ESAL2</text>
<text class="ax" x="-202.4" y="278.6" dy="0.35em">POR1</text>
<text class="ax" x="-298.3" y="172.2" dy="0.35em">POR2</text>
<text class="ax" x="-342.5" y="36" dy="0.35em">NOR1</text>
<text class="ax" x="-327.6" y="-106.4" dy="0.35em">NOR2</text>
<text class="ax" x="-255.9" y="-230.5" dy="0.35em">NOR3</text>
<text class="ax" x="-140.1" y="-314.6" dy="0.35em">NOR4</text>
<g class="L">
<g transform="matrix(0,-57.4,23.347,-52.437,0,0)"><path class="k" d="M2.14 0 0 2.22"/><path class="b" d="M1.71 0 0 1.74"/><path class="g" d="M2.03 0 0 2.15"/><path class="r" d="M2.64 0 0 2.79"/><path class="o" d="M2.08 0 0 2.15"/></g>
<g transform="matrix(23.347,-52.437,42.657,-38.408,0,0)"><path class="k" d="M2.22 0 0 2.33"/><path class="b" d="M1.74 0 0 1.83"/><path class="g" d="M2.15 0 0 2.24"/><path class="r" d="M2.79 0 0 2.93"/><path class="o" d="M2.15 0 0 2.24"/></g>
<g transform="matrix(42.657,-38.408,54.591,-17.738,0,0)"><path class="k" d="M2.33 0 0 2.86"/><path class="b" d="M1.83 0 0 2.24"/><path class="g" d="M2.24 0 0 2.72"/><path class="r" d="M2.93 0 0 3.61"/><path class="o" d="M2.24 0 0 2.72"/></g>
<g transform="matrix(54.591,-17.738,57.086,6,0,0)"><path class="k" d="M2.86 0 0 2.10"/><path class="b" d="M2.24 0 0 2.03"/><path class="g" d="M2.72 0 0 2.09"/><path class="r" d="M3.61 0 0 2.00"/><path class="o" d="M2.72 0 0 2.16"/></g>
<g transform="matrix(57.086,6,49.71,28.7,0,0)"><path class="k" d="M2.10 0 0 3.11"/><path class="b" d="M2.03 0 0 2.45"/><path class="g" d="M2.09 0 0 2.90"/><path class="r" d="M2.00 0 0 4.12"/><path class="o" d="M2.16 0 0 3.18"/></g>
<g transform="matrix(49.71,28.7,33.739,46.438,0,0)"><path class="k" d="M3.11 0 0 3.11"/><path class="b" d="M2.45 0 0 2.44"/><path class="g" d="M2.90 0 0 2.84"/><path class="r" d="M4.12 0 0 4.13"/><path class="o" d="M3.18 0 0 3.15"/></g>
<g transform="matrix(33.739,46.438,11.934,56.146,0,0)"><path class="k" d="M3.11 0 0 2.96"/><path class="b" d="M2.44 0 0 2.88"/><path class="g" d="M2.84 0 0 2.57"/><path class="r" d="M4.13 0 0 3.38"/><path class="o" d="M3.15 0 0 3.05"/></g>
<g transform="matrix(11.934,56.146,-11.934,56.146,0,0)"><path class="k" d="M2.96 0 0 2.73"/><path class="b" d="M2.88 0 0 2.45"/><path class="g" d="M2.57 0 0 2.52"/><path class="r" d="M3.38 0 0 3.08"/><path class="o" d="M3.05 0 0 2.93"/></g>
<g transform="matrix(-11.934,56.146,-33.739,46.438,0,0)"><path class="k" d="M2.73 0 0 2.78"/><path class="b" d="M2.45 0 0 2.78"/><path class="g" d="M2.52 0 0 2.76"/><path class="r" d="M3.08 0 0 2.38"/><path class="o" d="M2.93 0 0 3.03"/></g>
<g transform="matrix(-33.739,46.438,-49.71,28.7,0,0)"><path class="k" d="M2.78 0 0 2.68"/><path class="b" d="M2.78 0 0 2.42"/><path class="g" d="M2.76 0 0 2.60"/><path class="r" d="M2.38 0 0 2.73"/><path class="o" d="M3.03 0 0 2.81"/></g>
<g transform="matrix(-49.71,28.7,-57.086,6,0,0)"><path class="k" d="M2.68 0 0 2.49"/><path class="b" d="M2.42 0 0 2.28"/><path class="g" d="M2.60 0 0 2.47"/><path class="r" d="M2.73 0 0 2.53"/><path class="o" d="M2.81 0 0 2.62"/></g>
<g transform="matrix(-57.086,6,-54.591,-17.738,0,0)"><path class="k" d="M2.49 0 0 1.68"/><path class="b" d="M2.28 0 0 1.35"/><path class="g" d="M2.47 0 0 1.60"/><path class="r" d="M2.53 0 0 2.05"/><path class="o" d="M2.62 0 0 1.62"/></g>
<g transform="matrix(-54.591,-17.738,-42.657,-38.408,0,0)"><path class="k" d="M1.68 0 0 1.77"/><path class="b" d="M1.35 0 0 1.46"/><path class="g" d="M1.60 0 0 1.70"/><path class="r" d="M2.05 0 0 2.24"/><path class="o" d="M1.62 0 0 1.74"/></g>
<g transform="matrix(-42.657,-38.408,-23.347,-52.437,0,0)"><path class="k" d="M1.77 0 0 1.90"/><path class="b" d="M1.46 0 0 1.55"/><path class="g" d="M1.70 0 0 1.76"/><path class="r" d="M2.24 0 0 2.29"/><path class="o" d="M1.74 0 0 1.81"/></g>
<g transform="matrix(-23.347,-52.437,0,-57.4,0,0)"><path class="k" d="M1.90 0 0 2.14"/><path class="b" d="M1.55 0 0 1.71"/><path class="g" d="M1.76 0 0 2.03"/><path class="r" d="M2.29 0 0 2.64"/><path class="o" d="M1.81 0 0 2.08"/></g>
</g>
<g class="D">
<g transform="rotate(0) scale(57.4)"><circle class="k" cy="-2.14" r=".085"/><circle class="b" cy="-1.71" r=".078"/><circle class="g" cy="-2.03" r=".078"/><circle class="r" cy="-2.64" r=".078"/><circle class="o" cy="-2.08" r=".078"/></g>
<g transform="rotate(24) scale(57.4)"><circle class="k" cy="-2.22" r=".085"/><circle class="b" cy="-1.74" r=".078"/><circle class="g" cy="-2.15" r=".078"/><circle class="r" cy="-2.79" r=".078"/><circle class="o" cy="-2.15" r=".078"/></g>
<g transform="rotate(48) scale(57.4)"><circle class="k" cy="-2.33" r=".085"/><circle class="b" cy="-1.83" r=".078"/><circle class="g" cy="-2.24" r=".078"/><circle class="r" cy="-2.93" r=".078"/><circle class="o" cy="-2.24" r=".078"/></g>
<g transform="rotate(72) scale(57.4)"><circle class="k" cy="-2.86" r=".085"/><circle class="b" cy="-2.24" r=".078"/><circle class="g" cy="-2.72" r=".078"/><circle class="r" cy="-3.61" r=".078"/><circle class="o" cy="-2.72" r=".078"/></g>
<g transform="rotate(96) scale(57.4)"><circle class="k" cy="-2.10" r=".085"/><circle class="b" cy="-2.03" r=".078"/><circle class="g" cy="-2.09" r=".078"/><circle class="r" cy="-2.00" r=".078"/><circle class="o" cy="-2.16" r=".078"/></g>
<g transform="rotate(120) scale(57.4)"><circle class="k" cy="-3.11" r=".085"/><circle class="b" cy="-2.45" r=".078"/><circle class="g" cy="-2.90" r=".078"/><circle class="r" cy="-4.12" r=".078"/><circle class="o" cy="-3.18" r=".078"/></g>
<g transform="rotate(144) scale(57.4)"><circle class="k" cy="-3.11" r=".085"/><circle class="b" cy="-2.44" r=".078"/><circle class="g" cy="-2.84" r=".078"/><circle class="r" cy="-4.13" r=".078"/><circle class="o" cy="-3.15" r=".078"/></g>
<g transform="rotate(168) scale(57.4)"><circle class="k" cy="-2.96" r=".085"/><circle class="b" cy="-2.88" r=".078"/><circle class="g" cy="-2.57" r=".078"/><circle class="r" cy="-3.38" r=".078"/><circle class="o" cy="-3.05" r=".078"/></g>
<g transform="rotate(192) scale(57.4)"><circle class="k" cy="-2.73" r=".085"/><circle class="b" cy="-2.45" r=".078"/><circle class="g" cy="-2.52" r=".078"/><circle class="r" cy="-3.08" r=".078"/><circle class="o" cy="-2.93" r=".078"/></g>
<g transform="rotate(216) scale(57.4)"><circle class="k" cy="-2.78" r=".085"/><circle class="b" cy="-2.78" r=".078"/><circle class="g" cy="-2.76" r=".078"/><circle class="r" cy="-2.38" r=".078"/><circle class="o" cy="-3.03" r=".078"/></g>
<g transform="rotate(240) scale(57.4)"><circle class="k" cy="-2.68" r=".085"/><circle class="b" cy="-2.42" r=".078"/><circle class="g" cy="-2.60" r=".078"/><circle class="r" cy="-2.73" r=".078"/><circle class="o" cy="-2.81" r=".078"/></g>
<g transform="rotate(264) scale(57.4)"><circle class="k" cy="-2.49" r=".085"/><circle class="b" cy="-2.28" r=".078"/><circle class="g" cy="-2.47" r=".078"/><circle class="r" cy="-2.53" r=".078"/><circle class="o" cy="-2.62" r=".078"/></g>
<g transform="rotate(288) scale(57.4)"><circle class="k" cy="-1.68" r=".085"/><circle class="b" cy="-1.35" r=".078"/><circle class="g" cy="-1.60" r=".078"/><circle class="r" cy="-2.05" r=".078"/><circle class="o" cy="-1.62" r=".078"/></g>
<g transform="rotate(312) scale(57.4)"><circle class="k" cy="-1.77" r=".085"/><circle class="b" cy="-1.46" r=".078"/><circle class="g" cy="-1.70" r=".078"/><circle class="r" cy="-2.24" r=".078"/><circle class="o" cy="-1.74" r=".078"/></g>
<g transform="rotate(336) scale(57.4)"><circle class="k" cy="-1.90" r=".085"/><circle class="b" cy="-1.55" r=".078"/><circle class="g" cy="-1.76" r=".078"/><circle class="r" cy="-2.29" r=".078"/><circle class="o" cy="-1.81" r=".078"/></g>
</g>
</g>

<!-- PANEL E -->
<text class="pl" x="107" y="1694">e)</text>
<g transform="translate(477,2037)">
<g class="F">
<g transform="matrix(0,-57.4,23.347,-52.437,0,0)"><path d="M0 0 2.07 0 0 2.09z"/></g>
<g transform="matrix(23.347,-52.437,42.657,-38.408,0,0)"><path d="M0 0 2.09 0 0 2.12z"/></g>
<g transform="matrix(42.657,-38.408,54.591,-17.738,0,0)"><path d="M0 0 2.12 0 0 2.05z"/></g>
<g transform="matrix(54.591,-17.738,57.086,6,0,0)"><path d="M0 0 2.05 0 0 1.80z"/></g>
<g transform="matrix(57.086,6,49.71,28.7,0,0)"><path d="M0 0 1.80 0 0 2.14z"/></g>
<g transform="matrix(49.71,28.7,33.739,46.438,0,0)"><path d="M0 0 2.14 0 0 2.20z"/></g>
<g transform="matrix(33.739,46.438,11.934,56.146,0,0)"><path d="M0 0 2.20 0 0 2.04z"/></g>
<g transform="matrix(11.934,56.146,-11.934,56.146,0,0)"><path d="M0 0 2.04 0 0 2.20z"/></g>
<g transform="matrix(-11.934,56.146,-33.739,46.438,0,0)"><path d="M0 0 2.20 0 0 2.65z"/></g>
<g transform="matrix(-33.739,46.438,-49.71,28.7,0,0)"><path d="M0 0 2.65 0 0 2.54z"/></g>
<g transform="matrix(-49.71,28.7,-57.086,6,0,0)"><path d="M0 0 2.54 0 0 2.30z"/></g>
<g transform="matrix(-57.086,6,-54.591,-17.738,0,0)"><path d="M0 0 2.30 0 0 1.99z"/></g>
<g transform="matrix(-54.591,-17.738,-42.657,-38.408,0,0)"><path d="M0 0 1.99 0 0 2.03z"/></g>
<g transform="matrix(-42.657,-38.408,-23.347,-52.437,0,0)"><path d="M0 0 2.03 0 0 2.08z"/></g>
<g transform="matrix(-23.347,-52.437,0,-57.4,0,0)"><path d="M0 0 2.08 0 0 2.07z"/></g>
</g>
<use href="#grid"/>
<text class="rl" x="-15" y="-57.4" dy="0.35em">0</text>
<text class="rl" x="-15" y="-114.8" dy="0.35em">0.06</text>
<text class="rl" x="-15" y="-172.2" dy="0.35em">0.12</text>
<text class="rl" x="-15" y="-229.6" dy="0.35em">0.18</text>
<text class="rl" x="-15" y="-287" dy="0.35em">0.24</text>
<text class="ax" x="0" y="-344.4" dy="0.35em">NOR5</text>
<text class="ax" x="140.1" y="-314.6" dy="0.35em">NOR6</text>
<text class="ax" x="255.9" y="-230.5" dy="0.35em">NOR7</text>
<text class="ax" x="327.6" y="-106.4" dy="0.35em">NOR8</text>
<text class="ax" x="342.5" y="36" dy="0.35em">LEBA1</text>
<text class="ax" x="298.3" y="172.2" dy="0.35em">LEBA2</text>
<text class="ax" x="202.4" y="278.6" dy="0.35em">LEBA3</text>
<text class="ax" x="71.6" y="336.9" dy="0.35em">ESAL1</text>
<text class="ax" x="-71.6" y="336.9" dy="0.35em">ESAL2</text>
<text class="ax" x="-202.4" y="278.6" dy="0.35em">POR1</text>
<text class="ax" x="-298.3" y="172.2" dy="0.35em">POR2</text>
<text class="ax" x="-342.5" y="36" dy="0.35em">NOR1</text>
<text class="ax" x="-327.6" y="-106.4" dy="0.35em">NOR2</text>
<text class="ax" x="-255.9" y="-230.5" dy="0.35em">NOR3</text>
<text class="ax" x="-140.1" y="-314.6" dy="0.35em">NOR4</text>
<g class="L">
<g transform="matrix(0,-57.4,23.347,-52.437,0,0)"><path class="k" d="M2.07 0 0 2.09"/><path class="b" d="M2.46 0 0 2.51"/><path class="g" d="M2.28 0 0 2.32"/><path class="r" d="M2.70 0 0 2.83"/><path class="o" d="M3.10 0 0 3.14"/></g>
<g transform="matrix(23.347,-52.437,42.657,-38.408,0,0)"><path class="k" d="M2.09 0 0 2.12"/><path class="b" d="M2.51 0 0 2.53"/><path class="g" d="M2.32 0 0 2.42"/><path class="r" d="M2.83 0 0 2.93"/><path class="o" d="M3.14 0 0 3.23"/></g>
<g transform="matrix(42.657,-38.408,54.591,-17.738,0,0)"><path class="k" d="M2.12 0 0 2.05"/><path class="b" d="M2.53 0 0 2.54"/><path class="g" d="M2.42 0 0 2.75"/><path class="r" d="M2.93 0 0 3.47"/><path class="o" d="M3.23 0 0 3.37"/></g>
<g transform="matrix(54.591,-17.738,57.086,6,0,0)"><path class="k" d="M2.05 0 0 1.80"/><path class="b" d="M2.54 0 0 2.80"/><path class="g" d="M2.75 0 0 2.20"/><path class="r" d="M3.47 0 0 2.41"/><path class="o" d="M3.37 0 0 2.68"/></g>
<g transform="matrix(57.086,6,49.71,28.7,0,0)"><path class="k" d="M1.80 0 0 2.14"/><path class="b" d="M2.80 0 0 3.36"/><path class="g" d="M2.20 0 0 2.76"/><path class="r" d="M2.41 0 0 3.42"/><path class="o" d="M2.68 0 0 3.58"/></g>
<g transform="matrix(49.71,28.7,33.739,46.438,0,0)"><path class="k" d="M2.14 0 0 2.20"/><path class="b" d="M3.36 0 0 3.36"/><path class="g" d="M2.76 0 0 2.88"/><path class="r" d="M3.42 0 0 3.58"/><path class="o" d="M3.58 0 0 3.50"/></g>
<g transform="matrix(33.739,46.438,11.934,56.146,0,0)"><path class="k" d="M2.20 0 0 2.04"/><path class="b" d="M3.36 0 0 3.31"/><path class="g" d="M2.88 0 0 2.70"/><path class="r" d="M3.58 0 0 3.14"/><path class="o" d="M3.50 0 0 3.52"/></g>
<g transform="matrix(11.934,56.146,-11.934,56.146,0,0)"><path class="k" d="M2.04 0 0 2.20"/><path class="b" d="M3.31 0 0 2.97"/><path class="g" d="M2.70 0 0 2.98"/><path class="r" d="M3.14 0 0 3.70"/><path class="o" d="M3.52 0 0 3.21"/></g>
<g transform="matrix(-11.934,56.146,-33.739,46.438,0,0)"><path class="k" d="M2.20 0 0 2.65"/><path class="b" d="M2.97 0 0 4.67"/><path class="g" d="M2.98 0 0 3.85"/><path class="r" d="M3.70 0 0 3.21"/><path class="o" d="M3.21 0 0 3.17"/></g>
<g transform="matrix(-33.739,46.438,-49.71,28.7,0,0)"><path class="k" d="M2.65 0 0 2.54"/><path class="b" d="M4.67 0 0 3.35"/><path class="g" d="M3.85 0 0 3.72"/><path class="r" d="M3.21 0 0 4.02"/><path class="o" d="M3.17 0 0 3.51"/></g>
<g transform="matrix(-49.71,28.7,-57.086,6,0,0)"><path class="k" d="M2.54 0 0 2.30"/><path class="b" d="M3.35 0 0 2.86"/><path class="g" d="M3.72 0 0 3.75"/><path class="r" d="M4.02 0 0 3.87"/><path class="o" d="M3.51 0 0 3.02"/></g>
<g transform="matrix(-57.086,6,-54.591,-17.738,0,0)"><path class="k" d="M2.30 0 0 1.99"/><path class="b" d="M2.86 0 0 2.14"/><path class="g" d="M3.75 0 0 2.35"/><path class="r" d="M3.87 0 0 2.98"/><path class="o" d="M3.02 0 0 2.84"/></g>
<g transform="matrix(-54.591,-17.738,-42.657,-38.408,0,0)"><path class="k" d="M1.99 0 0 2.03"/><path class="b" d="M2.14 0 0 2.27"/><path class="g" d="M2.35 0 0 2.27"/><path class="r" d="M2.98 0 0 2.83"/><path class="o" d="M2.84 0 0 2.88"/></g>
<g transform="matrix(-42.657,-38.408,-23.347,-52.437,0,0)"><path class="k" d="M2.03 0 0 2.08"/><path class="b" d="M2.27 0 0 2.32"/><path class="g" d="M2.27 0 0 2.25"/><path class="r" d="M2.83 0 0 2.76"/><path class="o" d="M2.88 0 0 3.03"/></g>
<g transform="matrix(-23.347,-52.437,0,-57.4,0,0)"><path class="k" d="M2.08 0 0 2.07"/><path class="b" d="M2.32 0 0 2.46"/><path class="g" d="M2.25 0 0 2.28"/><path class="r" d="M2.76 0 0 2.70"/><path class="o" d="M3.03 0 0 3.10"/></g>
</g>
<g class="D">
<g transform="rotate(0) scale(57.4)"><circle class="k" cy="-2.07" r=".085"/><circle class="b" cy="-2.46" r=".078"/><circle class="g" cy="-2.28" r=".078"/><circle class="r" cy="-2.70" r=".078"/><circle class="o" cy="-3.10" r=".078"/></g>
<g transform="rotate(24) scale(57.4)"><circle class="k" cy="-2.09" r=".085"/><circle class="b" cy="-2.51" r=".078"/><circle class="g" cy="-2.32" r=".078"/><circle class="r" cy="-2.83" r=".078"/><circle class="o" cy="-3.14" r=".078"/></g>
<g transform="rotate(48) scale(57.4)"><circle class="k" cy="-2.12" r=".085"/><circle class="b" cy="-2.53" r=".078"/><circle class="g" cy="-2.42" r=".078"/><circle class="r" cy="-2.93" r=".078"/><circle class="o" cy="-3.23" r=".078"/></g>
<g transform="rotate(72) scale(57.4)"><circle class="k" cy="-2.05" r=".085"/><circle class="b" cy="-2.54" r=".078"/><circle class="g" cy="-2.75" r=".078"/><circle class="r" cy="-3.47" r=".078"/><circle class="o" cy="-3.37" r=".078"/></g>
<g transform="rotate(96) scale(57.4)"><circle class="k" cy="-1.80" r=".085"/><circle class="b" cy="-2.80" r=".078"/><circle class="g" cy="-2.20" r=".078"/><circle class="r" cy="-2.41" r=".078"/><circle class="o" cy="-2.68" r=".078"/></g>
<g transform="rotate(120) scale(57.4)"><circle class="k" cy="-2.14" r=".085"/><circle class="b" cy="-3.36" r=".078"/><circle class="g" cy="-2.76" r=".078"/><circle class="r" cy="-3.42" r=".078"/><circle class="o" cy="-3.58" r=".078"/></g>
<g transform="rotate(144) scale(57.4)"><circle class="k" cy="-2.20" r=".085"/><circle class="b" cy="-3.36" r=".078"/><circle class="g" cy="-2.88" r=".078"/><circle class="r" cy="-3.58" r=".078"/><circle class="o" cy="-3.50" r=".078"/></g>
<g transform="rotate(168) scale(57.4)"><circle class="k" cy="-2.04" r=".085"/><circle class="b" cy="-3.31" r=".078"/><circle class="g" cy="-2.70" r=".078"/><circle class="r" cy="-3.14" r=".078"/><circle class="o" cy="-3.52" r=".078"/></g>
<g transform="rotate(192) scale(57.4)"><circle class="k" cy="-2.20" r=".085"/><circle class="b" cy="-2.97" r=".078"/><circle class="g" cy="-2.98" r=".078"/><circle class="r" cy="-3.70" r=".078"/><circle class="o" cy="-3.21" r=".078"/></g>
<g transform="rotate(216) scale(57.4)"><circle class="k" cy="-2.65" r=".085"/><circle class="b" cy="-4.67" r=".078"/><circle class="g" cy="-3.85" r=".078"/><circle class="r" cy="-3.21" r=".078"/><circle class="o" cy="-3.17" r=".078"/></g>
<g transform="rotate(240) scale(57.4)"><circle class="k" cy="-2.54" r=".085"/><circle class="b" cy="-3.35" r=".078"/><circle class="g" cy="-3.72" r=".078"/><circle class="r" cy="-4.02" r=".078"/><circle class="o" cy="-3.51" r=".078"/></g>
<g transform="rotate(264) scale(57.4)"><circle class="k" cy="-2.30" r=".085"/><circle class="b" cy="-2.86" r=".078"/><circle class="g" cy="-3.75" r=".078"/><circle class="r" cy="-3.87" r=".078"/><circle class="o" cy="-3.02" r=".078"/></g>
<g transform="rotate(288) scale(57.4)"><circle class="k" cy="-1.99" r=".085"/><circle class="b" cy="-2.14" r=".078"/><circle class="g" cy="-2.35" r=".078"/><circle class="r" cy="-2.98" r=".078"/><circle class="o" cy="-2.84" r=".078"/></g>
<g transform="rotate(312) scale(57.4)"><circle class="k" cy="-2.03" r=".085"/><circle class="b" cy="-2.27" r=".078"/><circle class="g" cy="-2.27" r=".078"/><circle class="r" cy="-2.83" r=".078"/><circle class="o" cy="-2.88" r=".078"/></g>
<g transform="rotate(336) scale(57.4)"><circle class="k" cy="-2.08" r=".085"/><circle class="b" cy="-2.32" r=".078"/><circle class="g" cy="-2.25" r=".078"/><circle class="r" cy="-2.76" r=".078"/><circle class="o" cy="-3.03" r=".078"/></g>
</g>
</g>

<!-- PANEL F -->
<text class="pl" x="939.5" y="1694">f)</text>
<g transform="translate(1309.5,2037)">
<g class="F">
<g transform="matrix(0,-57.4,23.347,-52.437,0,0)"><path d="M0 0 2.03 0 0 2.05z"/></g>
<g transform="matrix(23.347,-52.437,42.657,-38.408,0,0)"><path d="M0 0 2.05 0 0 2.09z"/></g>
<g transform="matrix(42.657,-38.408,54.591,-17.738,0,0)"><path d="M0 0 2.09 0 0 2.05z"/></g>
<g transform="matrix(54.591,-17.738,57.086,6,0,0)"><path d="M0 0 2.05 0 0 1.66z"/></g>
<g transform="matrix(57.086,6,49.71,28.7,0,0)"><path d="M0 0 1.66 0 0 2.02z"/></g>
<g transform="matrix(49.71,28.7,33.739,46.438,0,0)"><path d="M0 0 2.02 0 0 2.14z"/></g>
<g transform="matrix(33.739,46.438,11.934,56.146,0,0)"><path d="M0 0 2.14 0 0 1.97z"/></g>
<g transform="matrix(11.934,56.146,-11.934,56.146,0,0)"><path d="M0 0 1.97 0 0 2.13z"/></g>
<g transform="matrix(-11.934,56.146,-33.739,46.438,0,0)"><path d="M0 0 2.13 0 0 2.50z"/></g>
<g transform="matrix(-33.739,46.438,-49.71,28.7,0,0)"><path d="M0 0 2.50 0 0 2.43z"/></g>
<g transform="matrix(-49.71,28.7,-57.086,6,0,0)"><path d="M0 0 2.43 0 0 2.18z"/></g>
<g transform="matrix(-57.086,6,-54.591,-17.738,0,0)"><path d="M0 0 2.18 0 0 1.94z"/></g>
<g transform="matrix(-54.591,-17.738,-42.657,-38.408,0,0)"><path d="M0 0 1.94 0 0 1.95z"/></g>
<g transform="matrix(-42.657,-38.408,-23.347,-52.437,0,0)"><path d="M0 0 1.95 0 0 1.98z"/></g>
<g transform="matrix(-23.347,-52.437,0,-57.4,0,0)"><path d="M0 0 1.98 0 0 2.03z"/></g>
</g>
<use href="#grid"/>
<text class="rl" x="-15" y="-57.4" dy="0.35em">0</text>
<text class="rl" x="-15" y="-114.8" dy="0.35em">0.06</text>
<text class="rl" x="-15" y="-172.2" dy="0.35em">0.12</text>
<text class="rl" x="-15" y="-229.6" dy="0.35em">0.18</text>
<text class="rl" x="-15" y="-287" dy="0.35em">0.24</text>
<text class="ax" x="0" y="-344.4" dy="0.35em">NOR5</text>
<text class="ax" x="140.1" y="-314.6" dy="0.35em">NOR6</text>
<text class="ax" x="255.9" y="-230.5" dy="0.35em">NOR7</text>
<text class="ax" x="327.6" y="-106.4" dy="0.35em">NOR8</text>
<text class="ax" x="342.5" y="36" dy="0.35em">LEBA1</text>
<text class="ax" x="298.3" y="172.2" dy="0.35em">LEBA2</text>
<text class="ax" x="202.4" y="278.6" dy="0.35em">LEBA3</text>
<text class="ax" x="71.6" y="336.9" dy="0.35em">ESAL1</text>
<text class="ax" x="-71.6" y="336.9" dy="0.35em">ESAL2</text>
<text class="ax" x="-202.4" y="278.6" dy="0.35em">POR1</text>
<text class="ax" x="-298.3" y="172.2" dy="0.35em">POR2</text>
<text class="ax" x="-342.5" y="36" dy="0.35em">NOR1</text>
<text class="ax" x="-327.6" y="-106.4" dy="0.35em">NOR2</text>
<text class="ax" x="-255.9" y="-230.5" dy="0.35em">NOR3</text>
<text class="ax" x="-140.1" y="-314.6" dy="0.35em">NOR4</text>
<g class="L">
<g transform="matrix(0,-57.4,23.347,-52.437,0,0)"><path class="k" d="M2.03 0 0 2.05"/><path class="b" d="M2.38 0 0 2.47"/><path class="g" d="M2.23 0 0 2.24"/><path class="r" d="M2.47 0 0 2.60"/><path class="o" d="M2.95 0 0 3.02"/></g>
<g transform="matrix(23.347,-52.437,42.657,-38.408,0,0)"><path class="k" d="M2.05 0 0 2.09"/><path class="b" d="M2.47 0 0 2.49"/><path class="g" d="M2.24 0 0 2.32"/><path class="r" d="M2.60 0 0 2.66"/><path class="o" d="M3.02 0 0 3.07"/></g>
<g transform="matrix(42.657,-38.408,54.591,-17.738,0,0)"><path class="k" d="M2.09 0 0 2.05"/><path class="b" d="M2.49 0 0 2.48"/><path class="g" d="M2.32 0 0 2.65"/><path class="r" d="M2.66 0 0 3.20"/><path class="o" d="M3.07 0 0 3.26"/></g>
<g transform="matrix(54.591,-17.738,57.086,6,0,0)"><path class="k" d="M2.05 0 0 1.66"/><path class="b" d="M2.48 0 0 2.60"/><path class="g" d="M2.65 0 0 2.07"/><path class="r" d="M3.20 0 0 2.19"/><path class="o" d="M3.26 0 0 2.43"/></g>
<g transform="matrix(57.086,6,49.71,28.7,0,0)"><path class="k" d="M1.66 0 0 2.02"/><path class="b" d="M2.60 0 0 3.12"/><path class="g" d="M2.07 0 0 2.64"/><path class="r" d="M2.19 0 0 3.24"/><path class="o" d="M2.43 0 0 3.27"/></g>
<g transform="matrix(49.71,28.7,33.739,46.438,0,0)"><path class="k" d="M2.02 0 0 2.14"/><path class="b" d="M3.12 0 0 3.19"/><path class="g" d="M2.64 0 0 2.73"/><path class="r" d="M3.24 0 0 3.42"/><path class="o" d="M3.27 0 0 3.24"/></g>
<g transform="matrix(33.739,46.438,11.934,56.146,0,0)"><path class="k" d="M2.14 0 0 1.97"/><path class="b" d="M3.19 0 0 3.20"/><path class="g" d="M2.73 0 0 2.53"/><path class="r" d="M3.42 0 0 2.96"/><path class="o" d="M3.24 0 0 3.35"/></g>
<g transform="matrix(11.934,56.146,-11.934,56.146,0,0)"><path class="k" d="M1.97 0 0 2.13"/><path class="b" d="M3.20 0 0 3.03"/><path class="g" d="M2.53 0 0 2.85"/><path class="r" d="M2.96 0 0 3.35"/><path class="o" d="M3.35 0 0 3.01"/></g>
<g transform="matrix(-11.934,56.146,-33.739,46.438,0,0)"><path class="k" d="M2.13 0 0 2.50"/><path class="b" d="M3.03 0 0 4.26"/><path class="g" d="M2.85 0 0 3.46"/><path class="r" d="M3.35 0 0 2.88"/><path class="o" d="M3.01 0 0 2.92"/></g>
<g transform="matrix(-33.739,46.438,-49.71,28.7,0,0)"><path class="k" d="M2.50 0 0 2.43"/><path class="b" d="M4.26 0 0 3.16"/><path class="g" d="M3.46 0 0 3.44"/><path class="r" d="M2.88 0 0 3.75"/><path class="o" d="M2.92 0 0 3.25"/></g>
<g transform="matrix(-49.71,28.7,-57.086,6,0,0)"><path class="k" d="M2.43 0 0 2.18"/><path class="b" d="M3.16 0 0 2.69"/><path class="g" d="M3.44 0 0 3.45"/><path class="r" d="M3.75 0 0 3.65"/><path class="o" d="M3.25 0 0 2.92"/></g>
<g transform="matrix(-57.086,6,-54.591,-17.738,0,0)"><path class="k" d="M2.18 0 0 1.94"/><path class="b" d="M2.69 0 0 1.98"/><path class="g" d="M3.45 0 0 2.25"/><path class="r" d="M3.65 0 0 2.79"/><path class="o" d="M2.92 0 0 2.71"/></g>
<g transform="matrix(-54.591,-17.738,-42.657,-38.408,0,0)"><path class="k" d="M1.94 0 0 1.95"/><path class="b" d="M1.98 0 0 2.15"/><path class="g" d="M2.25 0 0 2.19"/><path class="r" d="M2.79 0 0 2.59"/><path class="o" d="M2.71 0 0 2.73"/></g>
<g transform="matrix(-42.657,-38.408,-23.347,-52.437,0,0)"><path class="k" d="M1.95 0 0 1.98"/><path class="b" d="M2.15 0 0 2.30"/><path class="g" d="M2.19 0 0 2.18"/><path class="r" d="M2.59 0 0 2.55"/><path class="o" d="M2.73 0 0 2.83"/></g>
<g transform="matrix(-23.347,-52.437,0,-57.4,0,0)"><path class="k" d="M1.98 0 0 2.03"/><path class="b" d="M2.30 0 0 2.38"/><path class="g" d="M2.18 0 0 2.23"/><path class="r" d="M2.55 0 0 2.47"/><path class="o" d="M2.83 0 0 2.95"/></g>
</g>
<g class="D">
<g transform="rotate(0) scale(57.4)"><circle class="k" cy="-2.03" r=".085"/><circle class="b" cy="-2.38" r=".078"/><circle class="g" cy="-2.23" r=".078"/><circle class="r" cy="-2.47" r=".078"/><circle class="o" cy="-2.95" r=".078"/></g>
<g transform="rotate(24) scale(57.4)"><circle class="k" cy="-2.05" r=".085"/><circle class="b" cy="-2.47" r=".078"/><circle class="g" cy="-2.24" r=".078"/><circle class="r" cy="-2.60" r=".078"/><circle class="o" cy="-3.02" r=".078"/></g>
<g transform="rotate(48) scale(57.4)"><circle class="k" cy="-2.09" r=".085"/><circle class="b" cy="-2.49" r=".078"/><circle class="g" cy="-2.32" r=".078"/><circle class="r" cy="-2.66" r=".078"/><circle class="o" cy="-3.07" r=".078"/></g>
<g transform="rotate(72) scale(57.4)"><circle class="k" cy="-2.05" r=".085"/><circle class="b" cy="-2.48" r=".078"/><circle class="g" cy="-2.65" r=".078"/><circle class="r" cy="-3.20" r=".078"/><circle class="o" cy="-3.26" r=".078"/></g>
<g transform="rotate(96) scale(57.4)"><circle class="k" cy="-1.66" r=".085"/><circle class="b" cy="-2.60" r=".078"/><circle class="g" cy="-2.07" r=".078"/><circle class="r" cy="-2.19" r=".078"/><circle class="o" cy="-2.43" r=".078"/></g>
<g transform="rotate(120) scale(57.4)"><circle class="k" cy="-2.02" r=".085"/><circle class="b" cy="-3.12" r=".078"/><circle class="g" cy="-2.64" r=".078"/><circle class="r" cy="-3.24" r=".078"/><circle class="o" cy="-3.27" r=".078"/></g>
<g transform="rotate(144) scale(57.4)"><circle class="k" cy="-2.14" r=".085"/><circle class="b" cy="-3.19" r=".078"/><circle class="g" cy="-2.73" r=".078"/><circle class="r" cy="-3.42" r=".078"/><circle class="o" cy="-3.24" r=".078"/></g>
<g transform="rotate(168) scale(57.4)"><circle class="k" cy="-1.97" r=".085"/><circle class="b" cy="-3.20" r=".078"/><circle class="g" cy="-2.53" r=".078"/><circle class="r" cy="-2.96" r=".078"/><circle class="o" cy="-3.35" r=".078"/></g>
<g transform="rotate(192) scale(57.4)"><circle class="k" cy="-2.13" r=".085"/><circle class="b" cy="-3.03" r=".078"/><circle class="g" cy="-2.85" r=".078"/><circle class="r" cy="-3.35" r=".078"/><circle class="o" cy="-3.01" r=".078"/></g>
<g transform="rotate(216) scale(57.4)"><circle class="k" cy="-2.50" r=".085"/><circle class="b" cy="-4.26" r=".078"/><circle class="g" cy="-3.46" r=".078"/><circle class="r" cy="-2.88" r=".078"/><circle class="o" cy="-2.92" r=".078"/></g>
<g transform="rotate(240) scale(57.4)"><circle class="k" cy="-2.43" r=".085"/><circle class="b" cy="-3.16" r=".078"/><circle class="g" cy="-3.44" r=".078"/><circle class="r" cy="-3.75" r=".078"/><circle class="o" cy="-3.25" r=".078"/></g>
<g transform="rotate(264) scale(57.4)"><circle class="k" cy="-2.18" r=".085"/><circle class="b" cy="-2.69" r=".078"/><circle class="g" cy="-3.45" r=".078"/><circle class="r" cy="-3.65" r=".078"/><circle class="o" cy="-2.92" r=".078"/></g>
<g transform="rotate(288) scale(57.4)"><circle class="k" cy="-1.94" r=".085"/><circle class="b" cy="-1.98" r=".078"/><circle class="g" cy="-2.25" r=".078"/><circle class="r" cy="-2.79" r=".078"/><circle class="o" cy="-2.71" r=".078"/></g>
<g transform="rotate(312) scale(57.4)"><circle class="k" cy="-1.95" r=".085"/><circle class="b" cy="-2.15" r=".078"/><circle class="g" cy="-2.19" r=".078"/><circle class="r" cy="-2.59" r=".078"/><circle class="o" cy="-2.73" r=".078"/></g>
<g transform="rotate(336) scale(57.4)"><circle class="k" cy="-1.98" r=".085"/><circle class="b" cy="-2.30" r=".078"/><circle class="g" cy="-2.18" r=".078"/><circle class="r" cy="-2.55" r=".078"/><circle class="o" cy="-2.83" r=".078"/></g>
</g>
</g>

<!-- BORDERS -->
<g fill="none" stroke="#000" stroke-width="2.5">
<rect x="61" y="61" width="1662" height="2366"/>
<line x1="892.5" y1="61" x2="892.5" y2="2427"/>
<line x1="61" y1="849.5" x2="1723" y2="849.5"/>
<line x1="61" y1="1638" x2="1723" y2="1638"/>
</g>

<!-- LEGEND -->
<g>
<ellipse cx="519.5" cy="2466" rx="17.5" ry="19" fill="#6e6e6e"/>
<ellipse cx="519.5" cy="2466" rx="14" ry="15.5" fill="#c4c4c4"/>
<text x="556" y="2480" font-size="44" textLength="105" lengthAdjust="spacingAndGlyphs">Annual</text>
<ellipse cx="705" cy="2466" rx="17.5" ry="19" fill="#0000ff" fill-opacity="0.4"/>
<ellipse cx="705" cy="2466" rx="12.5" ry="14" fill="#0000ff"/>
<text x="738" y="2480" font-size="44" textLength="62" lengthAdjust="spacingAndGlyphs">DJF</text>
<ellipse cx="886" cy="2466" rx="17.5" ry="19" fill="#00f000" fill-opacity="0.4"/>
<ellipse cx="886" cy="2466" rx="12.5" ry="14" fill="#00f000"/>
<text x="920" y="2480" font-size="44" textLength="83" lengthAdjust="spacingAndGlyphs">MAM</text>
<ellipse cx="1068" cy="2466" rx="17.5" ry="19" fill="#ff0000" fill-opacity="0.4"/>
<ellipse cx="1068" cy="2466" rx="12.5" ry="14" fill="#ff0000"/>
<text x="1101" y="2480" font-size="44" textLength="61" lengthAdjust="spacingAndGlyphs">JJA</text>
<ellipse cx="1251" cy="2466" rx="17.5" ry="19" fill="#ffa500" fill-opacity="0.4"/>
<ellipse cx="1251" cy="2466" rx="12.5" ry="14" fill="#ffa500"/>
<text x="1285" y="2480" font-size="44" textLength="75" lengthAdjust="spacingAndGlyphs">SON</text>
</g>
</svg>
</body></html>
